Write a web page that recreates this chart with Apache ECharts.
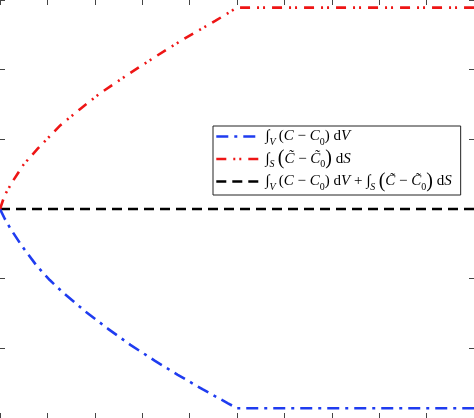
<!DOCTYPE html>
<html>
<head>
<meta charset="utf-8">
<script src="https://cdn.jsdelivr.net/npm/echarts@6/dist/echarts.min.js"></script>
<style>
  html, body { margin: 0; padding: 0; background: #fff; }
  #chart { width: 474px; height: 418px; }
</style>
</head>
<body>
<div id="chart"></div>
<script>
// values
const volX = [0, 0.1, 0.21, 0.45, 0.78, 1.05, 1.33, 1.8, 2.28, 2.75, 3.27, 3.75, 4.28, 4.81, 5.0, 10]
const volY = [0, -0.14, -0.27, -0.52, -0.82, -1.02, -1.2, -1.47, -1.72, -1.95, -2.18, -2.38, -2.59, -2.79, -2.86, -2.86]
const surfX = [0, 0.1, 0.27, 0.5, 0.8, 1.27, 1.7, 2.11, 2.74, 3.31, 3.9, 4.54, 5.0, 10]
const surfY = [0, 0.2, 0.4, 0.64, 0.87, 1.2, 1.44, 1.66, 1.95, 2.2, 2.45, 2.7, 2.89, 2.89]
const sumX = [0, 10]
const sumY = [0, 0]

const pairs = (xs, ys) => xs.map((x, i) => [x, ys[i]])

const labels = {
  vol: '{n|∫}{sub|V} {n|(}{it|C}{n| − }{it|C}{zero|0}{n|) d}{it|V}',
  surf: '{n|∫}{sub|S} {p|(}{it|C̃}{n| − }{it|C̃}{zero|0}{p|)}{n| d}{it|S}',
  sum: '{n|∫}{sub|V} {n|(}{it|C}{n| − }{it|C}{zero|0}{n|) d}{it|V}{n| + ∫}{sub|S} {p|(}{it|C̃}{n| − }{it|C̃}{zero|0}{p|)}{n| d}{it|S}'
}

const blueLine = { color: '#1f3cf0', width: 2.6, type: [12, 6, 3, 6] }
const redLine = { color: '#ee1515', width: 2.6, type: [10, 7, 2, 4, 2, 7] }
const blackLine = { color: '#000', width: 2.6, type: [10, 6] }

const tickStyle = { show: true, inside: true, length: 5, lineStyle: { color: '#444', width: 1 } }
const hideLine = { show: false, onZero: false }
const serif = 'Liberation Serif'

const chart = echarts.init(document.getElementById('chart'))
chart.setOption({
  animation: false,
  grid: { left: 0, right: 0, top: 0, bottom: 0 },
  legend: {
    orient: 'vertical',
    left: 213,
    top: 126,
    padding: [3, 9, 3, 2],
    itemGap: 2,
    itemWidth: 44,
    itemHeight: 14,
    backgroundColor: '#fff',
    borderColor: '#222',
    borderWidth: 1,
    borderRadius: 0,
    itemStyle: { opacity: 0 },
    data: [
      { name: 'vol', lineStyle: blueLine },
      { name: 'surf', lineStyle: redLine },
      { name: 'sum', lineStyle: blackLine }
    ],
    formatter: name => labels[name],
    textStyle: {
      rich: {
        n: { fontFamily: serif, fontSize: 15, color: '#000', lineHeight: 21 },
        it: { fontFamily: serif, fontStyle: 'italic', fontSize: 15, color: '#000', lineHeight: 21 },
        sub: { fontFamily: serif, fontStyle: 'italic', fontSize: 10, color: '#000', verticalAlign: 'bottom', lineHeight: 21 },
        zero: { fontFamily: serif, fontSize: 10, color: '#000', verticalAlign: 'bottom', lineHeight: 21 },
        p: { fontFamily: serif, fontSize: 20, color: '#000', lineHeight: 21 }
      }
    }
  },
  xAxis: [
    { type: 'value', min: 0, max: 10, interval: 1, position: 'bottom',
      axisLine: hideLine, axisTick: tickStyle, axisLabel: { show: false }, splitLine: { show: false } },
    { type: 'value', min: 0, max: 10, interval: 1, position: 'top',
      axisLine: hideLine, axisTick: tickStyle, axisLabel: { show: false }, splitLine: { show: false } }
  ],
  yAxis: [
    { type: 'value', min: -3, max: 3, interval: 1, position: 'left',
      axisLine: hideLine, axisTick: tickStyle, axisLabel: { show: false }, splitLine: { show: false } },
    { type: 'value', min: -3, max: 3, interval: 1, position: 'right',
      axisLine: hideLine, axisTick: tickStyle, axisLabel: { show: false }, splitLine: { show: false } }
  ],
  series: [
    {
      name: 'vol', type: 'line', showSymbol: false, symbol: 'none',
      data: pairs(volX, volY), z: 3,
      lineStyle: blueLine, itemStyle: { color: blueLine.color }
    },
    {
      name: 'surf', type: 'line', showSymbol: false, symbol: 'none',
      data: pairs(surfX, surfY), z: 3,
      lineStyle: redLine, itemStyle: { color: redLine.color }
    },
    {
      name: 'sum', type: 'line', showSymbol: false, symbol: 'none',
      data: pairs(sumX, sumY), z: 2,
      lineStyle: blackLine, itemStyle: { color: blackLine.color }
    }
  ]
})
</script>
</body>
</html>
